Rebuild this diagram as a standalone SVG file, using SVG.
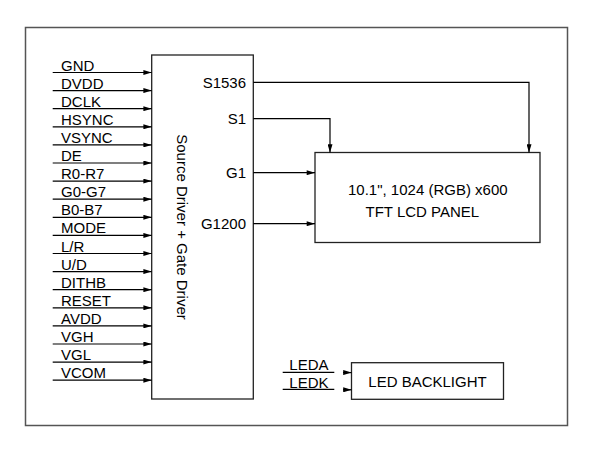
<svg xmlns="http://www.w3.org/2000/svg" width="592" height="451" viewBox="0 0 592 451">
<style>
text{font-family:"Liberation Sans",Arial,sans-serif;font-size:15px;fill:#000}
.box{fill:#fff;stroke:#222;stroke-width:1.3}
.ln{stroke:#000;stroke-width:1.2;fill:none}
</style>
<defs>
<marker id="ah" viewBox="0 0 10 6" refX="10" refY="3" markerWidth="9" markerHeight="5" markerUnits="userSpaceOnUse" orient="auto">
<path d="M0,0 L10,3 L0,6 z" fill="#000"/>
</marker>
</defs>
<rect width="592" height="451" fill="#fff"/>
<rect id="frame" x="25.5" y="27.5" width="542" height="398" fill="none" stroke="#555" stroke-width="1.5"/>
<g id="driver">
<rect class="box" x="151.7" y="55" width="101.6" height="344"/>
<text transform="translate(176.5,227) rotate(90)" text-anchor="middle">Source Driver + Gate Driver</text>
<text x="246" y="87.5" text-anchor="end">S1536</text>
<text x="246" y="123.5" text-anchor="end">S1</text>
<text x="246" y="177.5" text-anchor="end">G1</text>
<text x="246" y="228.5" text-anchor="end">G1200</text>
</g>
<g id="panel">
<rect class="box" x="315" y="152.5" width="225" height="90"/>
<text x="348" y="195">10.1", 1024 (RGB) x600</text>
<text x="365.5" y="217">TFT LCD PANEL</text>
</g>
<g id="backlight">
<rect class="box" x="351.5" y="362.7" width="152" height="36.6"/>
<text x="427.5" y="386.7" text-anchor="middle">LED BACKLIGHT</text>
</g>
<g id="labels">
<text x="61" y="70.5">GND</text>
<text x="61" y="88.6">DVDD</text>
<text x="61" y="106.7">DCLK</text>
<text x="61" y="124.8">HSYNC</text>
<text x="61" y="142.9">VSYNC</text>
<text x="61" y="161">DE</text>
<text x="61" y="179.1">R0-R7</text>
<text x="61" y="197.2">G0-G7</text>
<text x="61" y="215.3">B0-B7</text>
<text x="61" y="233.4">MODE</text>
<text x="61" y="251.5">L/R</text>
<text x="61" y="269.6">U/D</text>
<text x="61" y="287.7">DITHB</text>
<text x="61" y="305.8">RESET</text>
<text x="61" y="323.9">AVDD</text>
<text x="61" y="342">VGH</text>
<text x="61" y="360.1">VGL</text>
<text x="61" y="378.2">VCOM</text>
<text x="289.3" y="370">LEDA</text>
<text x="289.3" y="387.5">LEDK</text>
</g>
<g id="connectors" class="ln">
<path class="ln" marker-end="url(#ah)" d="M52.7,72.5H151.7"/>
<path class="ln" marker-end="url(#ah)" d="M52.7,90.6H151.7"/>
<path class="ln" marker-end="url(#ah)" d="M52.7,108.7H151.7"/>
<path class="ln" marker-end="url(#ah)" d="M52.7,126.8H151.7"/>
<path class="ln" marker-end="url(#ah)" d="M52.7,144.9H151.7"/>
<path class="ln" marker-end="url(#ah)" d="M52.7,163H151.7"/>
<path class="ln" marker-end="url(#ah)" d="M52.7,181.1H151.7"/>
<path class="ln" marker-end="url(#ah)" d="M52.7,199.2H151.7"/>
<path class="ln" marker-end="url(#ah)" d="M52.7,217.3H151.7"/>
<path class="ln" marker-end="url(#ah)" d="M52.7,235.4H151.7"/>
<path class="ln" marker-end="url(#ah)" d="M52.7,253.5H151.7"/>
<path class="ln" marker-end="url(#ah)" d="M52.7,271.6H151.7"/>
<path class="ln" marker-end="url(#ah)" d="M52.7,289.7H151.7"/>
<path class="ln" marker-end="url(#ah)" d="M52.7,307.8H151.7"/>
<path class="ln" marker-end="url(#ah)" d="M52.7,325.9H151.7"/>
<path class="ln" marker-end="url(#ah)" d="M52.7,344H151.7"/>
<path class="ln" marker-end="url(#ah)" d="M52.7,362.1H151.7"/>
<path class="ln" marker-end="url(#ah)" d="M52.7,380.2H151.7"/>
<path class="ln" marker-end="url(#ah)" d="M253.3,82.3H529V152.5"/>
<path class="ln" marker-end="url(#ah)" d="M253.3,118.7H330V152.5"/>
<path class="ln" marker-end="url(#ah)" d="M253.3,172.7H315"/>
<path class="ln" marker-end="url(#ah)" d="M253.3,223.7H315"/>
<path class="ln" d="M282.7,372.3H334.3"/>
<path class="ln" d="M282.7,389.3H334.3"/>
<path class="ln" marker-end="url(#ah)" d="M343,372.6H351.5"/>
<path class="ln" marker-end="url(#ah)" d="M343,389.8H351.5"/>
</g>
</svg>
